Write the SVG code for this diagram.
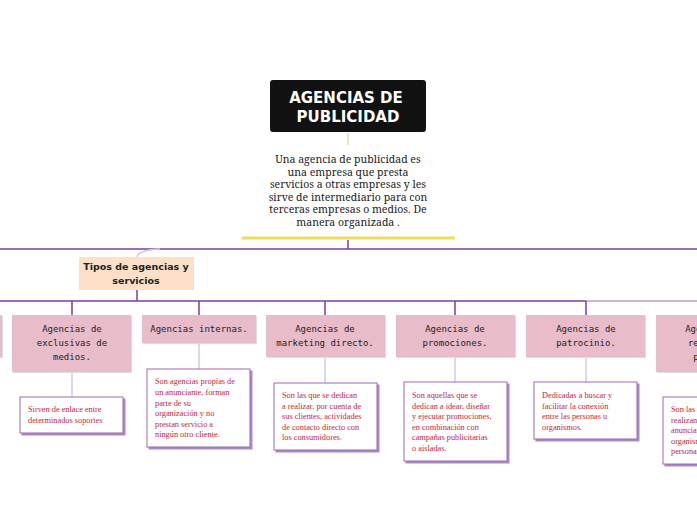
<svg xmlns="http://www.w3.org/2000/svg" width="697" height="520" viewBox="0 0 697 520">
<style>
.n{fill:#e8bcc8;filter:drop-shadow(1px 1px 0 #ddd)}
.nt{font-family:"DejaVu Sans Mono",monospace;font-size:9px;fill:#222;text-anchor:middle}
.d{fill:#fff;stroke:#9a6bb5;stroke-width:1;filter:drop-shadow(2px 2px 0 #a98bc0)}
.dt{font-family:"Liberation Serif",serif;font-size:8.3px;fill:#c4243e}
.c{stroke:#d3bfe3;stroke-width:1.3;fill:none}
.m{stroke:#7a3f9d;stroke-width:1.5;fill:none}
.rt{font-family:"DejaVu Sans",sans-serif;font-weight:bold;font-size:15px;fill:#fff;text-anchor:middle}
</style>
<rect width="697" height="520" fill="#fff"/>
<g id="connectors">
<line x1="348" y1="133" x2="348" y2="145" stroke="#cde3a0" stroke-width="1.3"/>
<line x1="242" y1="238" x2="455" y2="238" stroke="#eedd55" stroke-width="3"/>
<line x1="0" y1="249" x2="697" y2="249" class="m"/>
<path d="M348 240V249" class="m"/>
<path d="M160 249Q138 250 137 257" class="c"/>
<line x1="0" y1="301" x2="586" y2="301" class="m"/>
<line x1="586" y1="301" x2="697" y2="301" stroke="#b99ad2" stroke-width="1.5"/>
<path d="M137 290V301" class="m"/>
<path d="M72 301V315M199 301V315M325 301V315M455 301V315M586 301V315" class="m"/>
<path d="M72 372V397M199 343V369M325 357V383M455 357V382M586 357V382" class="c"/>
</g>
<g id="root"><rect x="270" y="80" width="156" height="52" rx="3" fill="#111"/>
<text x="346" y="103" class="rt">AGENCIAS DE</text>
<text x="348" y="122" class="rt">PUBLICIDAD</text></g>
<g id="intro" font-family="Noto Serif,DejaVu Serif,serif" font-size="10.5" fill="#222" text-anchor="middle">
<text x="348" y="163">Una agencia de publicidad es</text>
<text x="348" y="175.5">una empresa que presta</text>
<text x="348" y="188">servicios a otras empresas y les</text>
<text x="348" y="200.5">sirve de intermediario para con</text>
<text x="348" y="213">terceras empresas o medios. De</text>
<text x="348" y="225.5">manera organizada .</text></g>
<g id="tipos"><rect x="79" y="257" width="115" height="33" fill="#fce0c8"/>
<text x="136" y="270" font-family="DejaVu Sans,sans-serif" font-weight="bold" font-size="9.5" fill="#222" text-anchor="middle">Tipos de agencias y</text>
<text x="136" y="284" font-family="DejaVu Sans,sans-serif" font-weight="bold" font-size="9.5" fill="#222" text-anchor="middle">servicios</text></g>
<g id="left"><rect x="-5" y="315" width="7" height="42" class="n"/></g>
<g id="exclusivas"><rect x="12" y="315" width="119" height="57" class="n"/>
<text class="nt" x="72" y="332">Agencias de</text><text class="nt" x="72" y="346">exclusivas de</text><text class="nt" x="72" y="360">medios.</text>
<rect x="20" y="397" width="103" height="36" class="d"/>
<text class="dt" x="28" y="412">Sirven de enlace entre</text><text class="dt" x="28" y="423">determinados soportes</text></g>
<g id="internas"><rect x="142" y="315" width="114" height="28" class="n"/>
<text class="nt" x="199" y="332">Agencias internas.</text>
<rect x="147" y="369" width="103" height="78" class="d"/>
<g class="dt"><text x="155" y="384">Son agencias propias de</text><text x="155" y="395">un anunciante, forman</text><text x="155" y="405.5">parte de su</text><text x="155" y="416">organización y no</text><text x="155" y="426.5">prestan servicio a</text><text x="155" y="437">ningún otro cliente.</text></g></g>
<g id="marketing"><rect x="266" y="315" width="119" height="42" class="n"/>
<text class="nt" x="325" y="332">Agencias de</text><text class="nt" x="325" y="346">marketing directo.</text>
<rect x="274" y="383" width="103" height="67" class="d"/>
<g class="dt"><text x="282" y="398">Son las que se dedican</text><text x="282" y="408.5">a realizar, por cuenta de</text><text x="282" y="419">sus clientes, actividades</text><text x="282" y="429.5">de contacto directo con</text><text x="282" y="440">los consumidores.</text></g></g>
<g id="promociones"><rect x="396" y="315" width="119" height="42" class="n"/>
<text class="nt" x="455" y="332">Agencias de</text><text class="nt" x="455" y="346">promociones.</text>
<rect x="404" y="382" width="103" height="79" class="d"/>
<g class="dt"><text x="412" y="398">Son aquellas que se</text><text x="412" y="408.5">dedican a idear, diseñar</text><text x="412" y="419">y ejecutar promociones,</text><text x="412" y="429.5">en combinación con</text><text x="412" y="440">campañas publicitarias</text><text x="412" y="450.5">o aisladas.</text></g></g>
<g id="patrocinio"><rect x="526" y="315" width="119" height="42" class="n"/>
<text class="nt" x="586" y="332">Agencias de</text><text class="nt" x="586" y="346">patrocinio.</text>
<rect x="534" y="382" width="103" height="57" class="d"/>
<g class="dt"><text x="542" y="398">Dedicadas a buscar y</text><text x="542" y="408.5">facilitar la conexión</text><text x="542" y="419">entre las personas u</text><text x="542" y="429.5">organismos.</text></g></g>
<g id="last"><rect x="656" y="315" width="60" height="57" class="n"/>
<text class="nt" x="715" y="332">Agencias de</text><text class="nt" x="715" y="346">relaciones</text><text class="nt" x="715" y="360">públicas</text>
<rect x="663" y="397" width="60" height="67" class="d"/>
<g class="dt"><text x="671" y="412">Son las que se</text><text x="671" y="422.5">realizan para</text><text x="671" y="433">anunciantes,</text><text x="671" y="443.5">organismos o</text><text x="671" y="454">personas.</text></g></g>
</svg>
